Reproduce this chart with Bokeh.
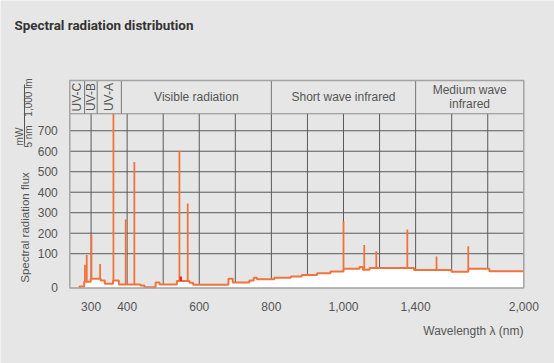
import numpy as np
from bokeh.plotting import figure
from bokeh.models import Range1d, FixedTicker, Label
from bokeh.core.properties import value
from bokeh.embed import file_html
from bokeh.resources import INLINE

# ---------------- data ----------------
TITLE = "Spectral radiation distribution"
Y_LABEL = "Spectral radiation flux"
X_LABEL = "Wavelength \u03bb (nm)"
UNIT_NUM = "mW"
UNIT_DEN = ["5 nm", "1,000 lm"]

X_TICKS_NM = [300, 400, 600, 800, 1000, 1400, 2000]
X_GRID_NM = [300, 400, 500, 600, 700, 800, 900, 1000, 1200, 1400, 1600, 1800]
Y_TICKS = [0, 100, 200, 300, 400, 500, 600, 700]
X_MIN_NM = 241
X_MAX_NM = 2000
Y_TOP_VALUE = 783          # top of the data area (below header band)

REGION_EDGES_NM = [241, 282, 317, 384, 800, 1400, 2000]
UV_NAMES = ["UV-C", "UV-B", "UV-A"]
BAND_NAMES = ["Visible radiation", "Short wave infrared", "Medium wave\ninfrared"]

# continuum (step function): start wavelength of each step and its level
CONT_START_NM = [268, 281, 299, 327, 338, 361, 377, 437, 448, 479,
                 490, 538, 573, 583, 681, 693, 739, 751, 760, 808,
                 854, 884, 927, 964, 1000, 1089, 1107, 1145, 1391, 1599,
                 1692, 1809]
CONT_LEVEL = [4, 18, 27, 22, 12, 22, 10, 7, 2, 16,
              10, 20, 15, 9, 27, 16, 22, 30, 25, 30,
              33, 38, 43, 48, 56, 61, 53, 58, 52, 47,
              56, 49]
CONT_END_NM = 2000

# emission lines
LINE_NM = [283, 288, 301, 325, 362, 396, 420, 545, 568, 1000, 1115, 1182, 1354, 1516, 1692]
LINE_PEAK = [68, 96, 192, 70, 783, 267, 548, 602, 345, 258, 143, 112, 218, 92, 137]

# small highlighted block at the 546 nm line
MARK_NM = [546, 552]
MARK_VAL = [20, 33]

# ---------------- scales (piecewise axes of the original) ----------------
K = 1.668  # height of 0..100 band relative to one 100-step above


def tx(nm):
    nm = np.asarray(nm, dtype=float)
    return np.where(nm <= 1000, nm, 1000 + (nm - 1000) / 2.0)


def ty(v):
    v = np.asarray(v, dtype=float)
    return np.round(np.where(v <= 100, v / 100.0 * K, K + (v - 100) / 100.0), 4)


def fl(a):
    return [float(v) for v in np.atleast_1d(a)]


W, H = 554, 363
BG = "#e6e6e6"
ORANGE = "#f1733c"
GRID = "#5a5a5a"
TXT = "#555555"
FONT = "Liberation Sans"

# chart box in page pixels (frame covers the whole canvas)
BOX_L, BOX_R, BOX_T, BOX_B = 69.3, 523.3, 80.0, 287.4
Y_TOP = 10.12
x0, x1 = float(tx(X_MIN_NM)), float(tx(X_MAX_NM))
data_top = float(ty(Y_TOP_VALUE))
sx = (BOX_R - BOX_L) / (x1 - x0)
sy = (BOX_B - BOX_T) / Y_TOP
xr = Range1d(x0 - BOX_L / sx, x1 + (W - BOX_R) / sx)
yr = Range1d(-(H - BOX_B) / sy, Y_TOP + BOX_T / sy)

p = figure(width=W, height=H, x_range=xr, y_range=yr,
           output_backend="svg", toolbar_location=None,
           min_border_left=0, min_border_right=0, min_border_top=0, min_border_bottom=0,
           background_fill_color=BG, border_fill_color=BG, outline_line_color=None)
p.xgrid.visible = False
p.ygrid.visible = False

# axes drawn at the chart box edges
xt = fl(tx(X_TICKS_NM))
p.xaxis.ticker = FixedTicker(ticks=xt)
p.xaxis.major_label_overrides = {t: f"{nm:,}" for t, nm in zip(xt, X_TICKS_NM)}
p.xaxis.fixed_location = 0
yt = fl(ty(Y_TICKS))
p.yaxis.ticker = FixedTicker(ticks=yt)
p.yaxis.major_label_overrides = {t: str(v) for t, v in zip(yt, Y_TICKS)}
p.yaxis.fixed_location = x0
for ax in (p.xaxis, p.yaxis):
    ax.axis_line_color = None
    ax.major_tick_line_color = None
    ax.minor_tick_line_color = None
    ax.major_label_text_font = FONT
    ax.major_label_text_font_size = "12px"
    ax.major_label_text_color = TXT
p.xaxis.major_label_standoff = 8
p.yaxis.major_label_standoff = 6

# grid lines inside the data area
gx = fl(tx(X_GRID_NM))
p.segment(x0=gx, y0=[0.0] * len(gx), x1=gx, y1=[data_top] * len(gx), line_color=GRID, line_width=1)
gy = fl(ty(Y_TICKS[1:]))
p.segment(x0=[x0] * len(gy), y0=gy, x1=[x1] * len(gy), y1=gy, line_color=GRID, line_width=1)

# continuum step line and white fill
ends = CONT_START_NM[1:] + [CONT_END_NM]
lx, ly = [CONT_START_NM[0]], [0]
for s, e, lv in zip(CONT_START_NM, ends, CONT_LEVEL):
    lx += [s, e]
    ly += [lv, lv]
px = lx + [CONT_END_NM, CONT_START_NM[0]]
py = ly + [0, 0]
p.patch(tx(px), ty(py), fill_color="white", line_color=None)

# emission lines from the continuum up
idx = np.searchsorted(CONT_START_NM, LINE_NM, side="right") - 1
base = np.array(CONT_LEVEL)[idx]
p.segment(x0=tx(LINE_NM), y0=ty(base), x1=tx(LINE_NM), y1=ty(LINE_PEAK),
          line_color=ORANGE, line_width=1.8)
p.line(tx(lx), ty(ly), line_color=ORANGE, line_width=2)

p.quad(left=fl(tx(MARK_NM[0])), right=fl(tx(MARK_NM[1])),
       bottom=fl(ty(MARK_VAL[0])), top=fl(ty(MARK_VAL[1])),
       fill_color="#e3262a", line_color=None)

# header band
p.segment(x0=[x0], y0=[data_top], x1=[x1], y1=[data_top], line_color="#8c8c8c", line_width=1.2)
inner = fl(tx(REGION_EDGES_NM[1:-1]))
p.segment(x0=inner, y0=[data_top] * len(inner), x1=inner, y1=[Y_TOP] * len(inner),
          line_color="#777777", line_width=1)
edges_t = tx(REGION_EDGES_NM)
mids = fl((edges_t[:-1] + edges_t[1:]) / 2)
hy = (data_top + Y_TOP) / 2
p.text(x=mids[:3], y=[hy] * 3, text=UV_NAMES, angle=np.pi / 2,
       text_align="center", text_baseline="middle", text_font=value(FONT),
       text_font_size="12px", text_color=TXT)
p.text(x=mids[3:], y=[hy] * 3, text=BAND_NAMES,
       text_align="center", text_baseline="middle", text_font=value(FONT),
       text_font_size="12px", text_color=TXT, text_line_height=1.05)

# chart box outline
p.quad(left=[x0], right=[x1], bottom=[0.0], top=[Y_TOP], fill_color=None,
       line_color="#a3a3a3", line_width=1.5)


# outer texts (screen units; frame == canvas, y measured from the bottom)
def lab(x, y, text, size="12px", angle=0.0, align="center", baseline="middle", **kw):
    p.add_layout(Label(x=x, y=H - y, x_units="screen", y_units="screen", text=text, angle=angle,
                       text_font=kw.pop("font", FONT), text_font_size=size,
                       text_color=kw.pop("color", TXT), text_align=align,
                       text_baseline=baseline, **kw))


lab(14, 24.5, TITLE, size="13.4px", align="left", baseline="alphabetic",
    font="Roboto", color="#333333", text_font_style="bold")
lab(24.5, 227, Y_LABEL, size="11.5px", angle=np.pi / 2)
lab(18.7, 136, UNIT_NUM, size="10px", angle=np.pi / 2)
lab(28, 136, UNIT_DEN[0], size="10px", angle=np.pi / 2)
lab(28, 97, UNIT_DEN[1], size="10px", angle=np.pi / 2)
lab(523, 330, X_LABEL, align="right")

# fraction bar of the unit, in data coordinates derived from the screen spot
ux = xr.start + 24 / sx
p.segment(x0=[ux], y0=[yr.end - 143 / sy], x1=[ux], y1=[yr.end - 84 / sy],
          line_color=TXT, line_width=1)

open("out.html", "w").write(file_html(p, INLINE))
